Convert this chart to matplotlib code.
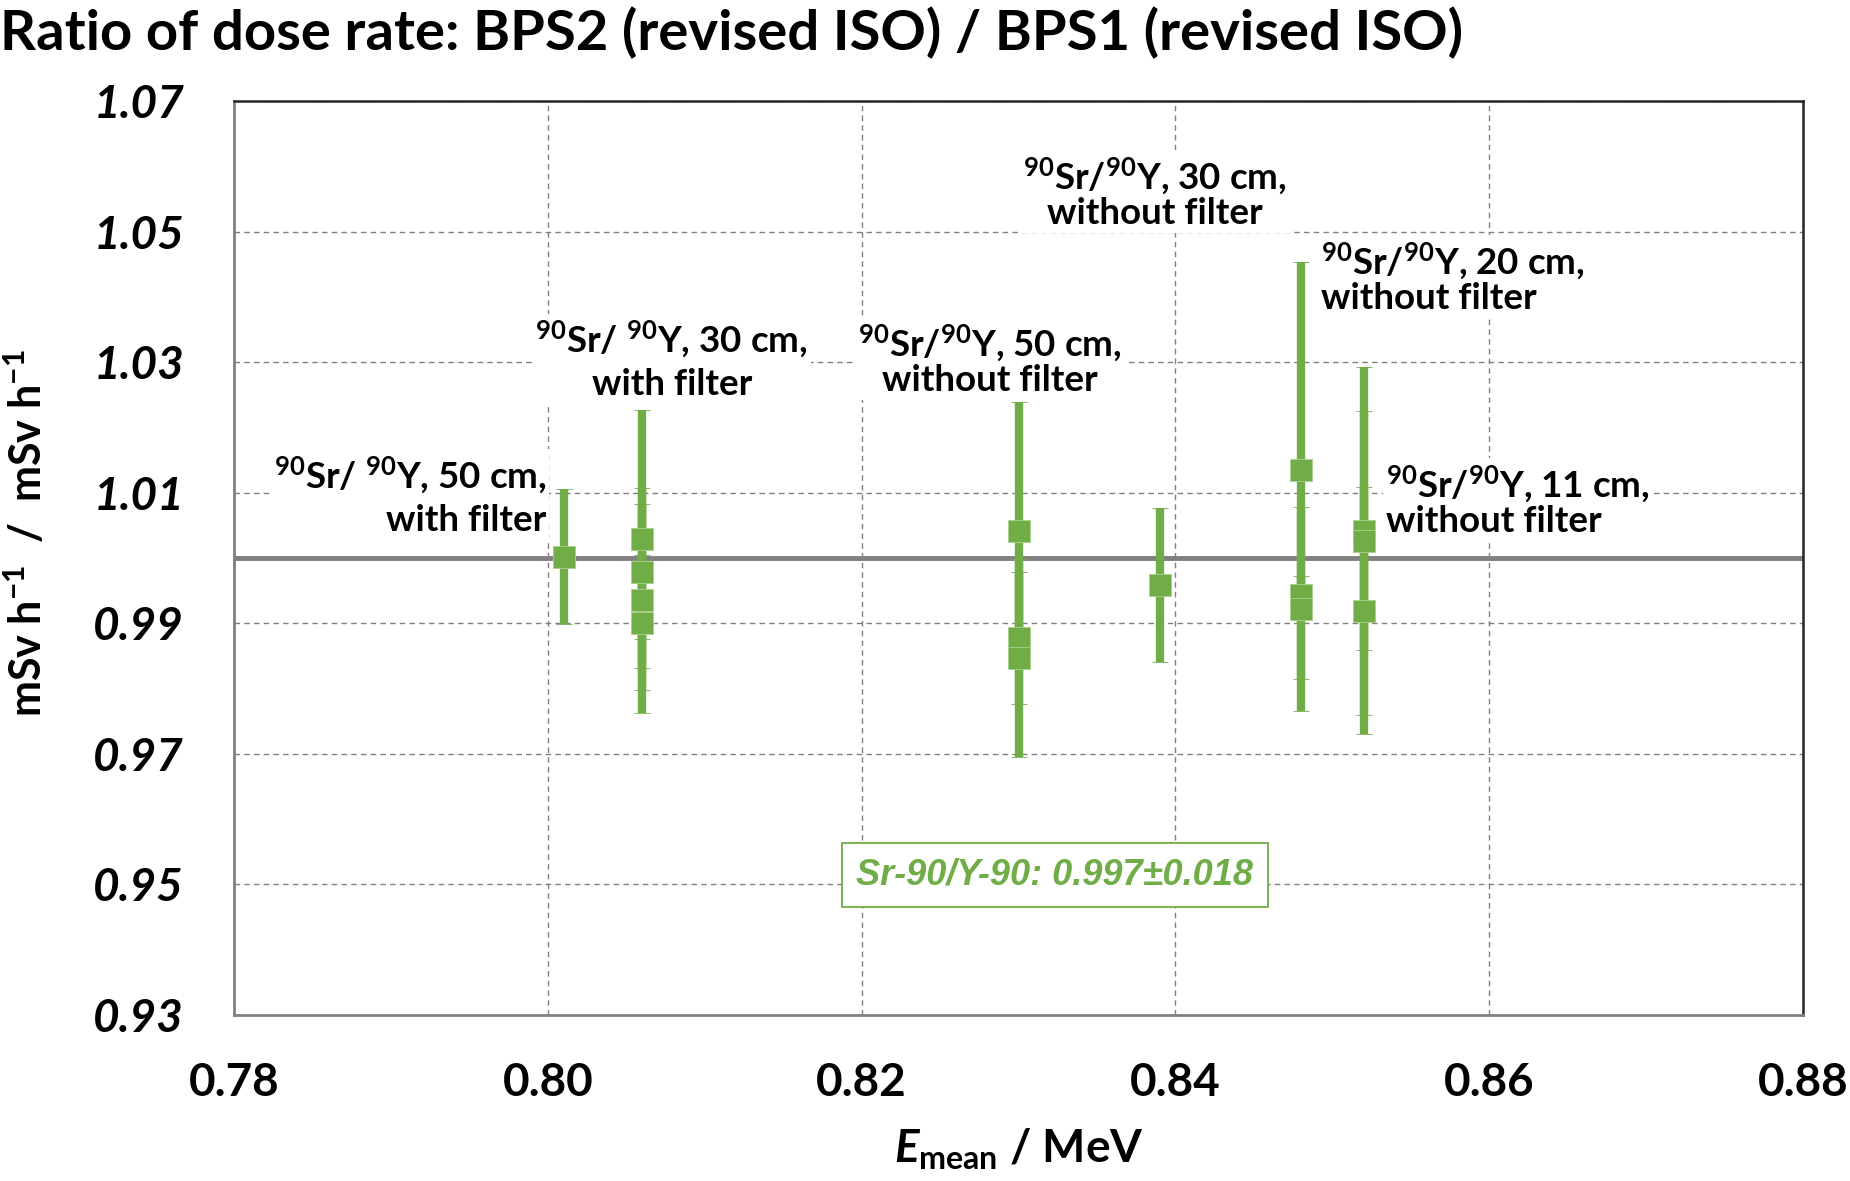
import matplotlib
matplotlib.use("Agg")
import matplotlib.pyplot as plt

plt.rcParams['font.family'] = ['Lato', 'DejaVu Sans']
plt.rcParams['mathtext.fontset'] = 'custom'
plt.rcParams['mathtext.rm'] = 'Lato:bold'
plt.rcParams['mathtext.bf'] = 'Lato:bold'
plt.rcParams['mathtext.it'] = 'Lato:italic:bold'

# mean energy (MeV) for every measurement
e_mean = [0.801,
          0.806, 0.806, 0.806, 0.806,
          0.830, 0.830, 0.830,
          0.839,
          0.848, 0.848, 0.848,
          0.852, 0.852, 0.852]
# ratio BPS2 / BPS1
ratio = [1.0002,
         1.0029, 0.9979, 0.9935, 0.9901,
         1.0042, 0.9877, 0.9847,
         0.9958,
         1.0134, 0.9943, 0.9922,
         1.0042, 1.0026, 0.9919]
# uncertainty
ratio_err = [0.0103,
             0.0198, 0.0103, 0.0172, 0.0104,
             0.0197, 0.0101, 0.0152,
             0.0118,
             0.0320, 0.0030, 0.0156,
             0.0183, 0.0266, 0.0189]

ref_value = 1.0
x_ticks = [0.78, 0.80, 0.82, 0.84, 0.86, 0.88]
y_ticks = [0.93, 0.95, 0.97, 0.99, 1.01, 1.03, 1.05, 1.07]

labels = [r'$^{90}$Sr/ $^{90}$Y, 50 cm,' + '\nwith filter',
          r'$^{90}$Sr/ $^{90}$Y, 30 cm,' + '\nwith filter',
          r'$^{90}$Sr/$^{90}$Y, 50 cm,' + '\nwithout filter',
          r'$^{90}$Sr/$^{90}$Y, 30 cm,' + '\nwithout filter',
          r'$^{90}$Sr/$^{90}$Y, 20 cm,' + '\nwithout filter',
          r'$^{90}$Sr/$^{90}$Y, 11 cm,' + '\nwithout filter']
label_x = [0.7999, 0.8079, 0.8282, 0.8387, 0.8493, 0.8534]
label_y = [1.0096, 1.0303, 1.0303, 1.0560, 1.0430, 1.0088]
label_ha = ['right', 'center', 'center', 'center', 'left', 'left']
label_ls = [1.3, 1.3, 1.0, 1.0, 1.0, 1.0]

summary = 'Sr-90/Y-90: 0.997±0.018'

green = '#70AD47'

fig = plt.figure(figsize=(18.5, 11.81), dpi=100)
ax = fig.add_axes([0.1265, 0.1406, 0.8481, 0.7739])

ax.axhline(ref_value, color='#808080', lw=3.5, zorder=2)
ax.errorbar(e_mean, ratio, yerr=ratio_err, fmt='s', color=green,
            markersize=16.5, markeredgecolor='#A9D18E', markeredgewidth=0.6,
            elinewidth=6, capsize=5.5, capthick=6, zorder=3)

ax.set_xlim(0.78, 0.88)
ax.set_ylim(0.93, 1.07)
ax.set_xticks(x_ticks)
ax.set_yticks(y_ticks)
ax.set_xticklabels(['%.2f' % v for v in x_ticks], fontsize=33, fontweight='bold')
ax.set_yticklabels(['%.2f' % v for v in y_ticks], fontsize=33, fontweight='bold',
                   fontstyle='italic')
ax.tick_params(axis='both', length=0)
ax.tick_params(axis='y', pad=36)
ax.tick_params(axis='x', pad=34)
ax.grid(True, color='#808080', linestyle=(0, (4, 3)), lw=1.0, zorder=0)
ax.set_axisbelow(True)
for side in ['top', 'right']:
    ax.spines[side].set_color('#262626')
    ax.spines[side].set_linewidth(1.8)
for side in ['left', 'bottom']:
    ax.spines[side].set_color('#808080')
    ax.spines[side].set_linewidth(2.0)

for txt, lx, ly, ha, ls in zip(labels, label_x, label_y, label_ha, label_ls):
    ax.text(lx, ly, txt, fontsize=26.5, fontweight='bold', ha=ha, va='center',
            multialignment=ha, linespacing=ls, zorder=4,
            bbox=dict(facecolor='white', edgecolor='none', pad=2))

ax.text(0.8323, 0.9514, summary, fontsize=26, fontweight='bold', fontstyle='italic',
        family=['Liberation Sans', 'DejaVu Sans'], color=green, ha='center', va='center',
        zorder=4, bbox=dict(boxstyle='square,pad=0.4', facecolor='white',
                            edgecolor=green, linewidth=1.3))

ax.set_xlabel(r'$\mathit{E}_{\mathrm{mean}}$ / MeV', fontsize=33, fontweight='bold',
              labelpad=16)
ax.set_ylabel(r'mSv h$^{-1}$  /  mSv h$^{-1}$', fontsize=31, fontweight='bold',
              labelpad=10)
ax.yaxis.set_label_coords(-0.118, 0.527)

fig.text(0.0, 0.994, 'Ratio of dose rate: BPS2 (revised ISO) / BPS1 (revised ISO)',
         fontsize=40.5, fontweight='bold', ha='left', va='top')

fig.savefig('out.png', dpi=100)
